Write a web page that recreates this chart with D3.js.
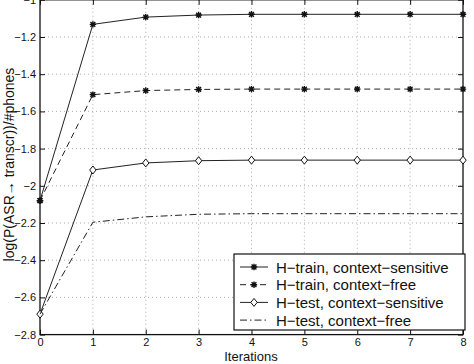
<!DOCTYPE html>
<html>
<head>
<meta charset="utf-8">
<script src="https://cdn.jsdelivr.net/npm/d3@7"></script>
<style>
  body { margin: 0; background: #fff; }
  svg { display: block; font-family: "Liberation Sans", Arial, sans-serif; }
</style>
</head>
<body>
<svg id="chart" width="474" height="364"></svg>
<script>
const iterations = [0, 1, 2, 3, 4, 5, 6, 7, 8];
const trainSensitive = [-2.08, -1.132, -1.093, -1.082, -1.078, -1.078, -1.078, -1.078, -1.078];
const trainFree = [-2.08, -1.51, -1.488, -1.482, -1.48, -1.48, -1.48, -1.48, -1.48];
const testSensitive = [-2.69, -1.915, -1.877, -1.865, -1.862, -1.862, -1.862, -1.862, -1.862];
const testFree = [-2.69, -2.196, -2.167, -2.153, -2.15, -2.15, -2.15, -2.15, -2.15];
const xTicks = [0, 1, 2, 3, 4, 5, 6, 7, 8];
const yTicks = [-1, -1.2, -1.4, -1.6, -1.8, -2, -2.2, -2.4, -2.6, -2.8];

const series = [
  { name: "H\u2212train, context\u2212sensitive", values: trainSensitive, dash: null, marker: "star" },
  { name: "H\u2212train, context\u2212free", values: trainFree, dash: "6,4", marker: "star" },
  { name: "H\u2212test, context\u2212sensitive", values: testSensitive, dash: null, marker: "diamond" },
  { name: "H\u2212test, context\u2212free", values: testFree, dash: "7,3,1.5,3", marker: null }
];

const svg = d3.select("#chart");
const mLeft = 40, mRight = 463, mTop = -0.2, mBottom = 334.6;

const x = d3.scaleLinear().domain([0, 8]).range([mLeft, mRight]);
const y = d3.scaleLinear().domain([-2.8, -1]).range([mBottom, mTop]);
const fmt = d => d3.format("")(d).replace("-", "\u2212");

// grid
const grid = svg.append("g").attr("stroke", "#999").attr("stroke-width", 0.8).attr("stroke-dasharray", "1,3");
grid.selectAll(".gx").data(xTicks.slice(1, -1)).join("line")
  .attr("x1", d => x(d)).attr("x2", d => x(d)).attr("y1", mTop).attr("y2", mBottom);
grid.selectAll(".gy").data(yTicks.slice(1, -1)).join("line")
  .attr("x1", mLeft).attr("x2", mRight).attr("y1", d => y(d)).attr("y2", d => y(d));

// axes (ticks inward, box)
svg.append("g").attr("transform", `translate(0,${mBottom})`)
  .call(d3.axisBottom(x).tickValues(xTicks).tickSizeInner(-5).tickSizeOuter(0).tickPadding(4).tickFormat(fmt))
  .call(g => g.select(".domain").remove());
svg.append("g").attr("transform", `translate(${mLeft},0)`)
  .call(d3.axisLeft(y).tickValues(yTicks).tickSizeInner(-5).tickSizeOuter(0).tickPadding(4).tickFormat(fmt))
  .call(g => g.select(".domain").remove());
svg.append("g").attr("transform", `translate(0,${mTop})`)
  .call(d3.axisTop(x).tickValues(xTicks).tickSizeInner(-5).tickSizeOuter(0).tickFormat(""))
  .call(g => g.select(".domain").remove());
svg.append("g").attr("transform", `translate(${mRight},0)`)
  .call(d3.axisRight(y).tickValues(yTicks).tickSizeInner(-5).tickSizeOuter(0).tickFormat(""))
  .call(g => g.select(".domain").remove());
svg.selectAll(".tick text").attr("font-size", 11).attr("fill", "#111");
svg.selectAll(".tick line").attr("stroke", "#111");

svg.append("rect").attr("x", mLeft).attr("y", mTop).attr("width", mRight - mLeft).attr("height", mBottom - mTop)
  .attr("fill", "none").attr("stroke", "#111").attr("stroke-width", 1.3);

// lines
const line = d3.line().x((d, i) => x(iterations[i])).y(d => y(d));

function drawMarker(g, type, cx, cy) {
  if (type === "star") {
    const s = 3.2;
    g.append("path")
      .attr("d", `M${cx - s},${cy}L${cx + s},${cy}M${cx},${cy - s}L${cx},${cy + s}` +
        `M${cx - s * 0.75},${cy - s * 0.75}L${cx + s * 0.75},${cy + s * 0.75}` +
        `M${cx - s * 0.75},${cy + s * 0.75}L${cx + s * 0.75},${cy - s * 0.75}`)
      .attr("stroke", "#111").attr("stroke-width", 1.4).attr("fill", "none");
  } else if (type === "diamond") {
    const s = 4;
    g.append("path")
      .attr("d", `M${cx},${cy - s}L${cx + s * 0.8},${cy}L${cx},${cy + s}L${cx - s * 0.8},${cy}Z`)
      .attr("stroke", "#111").attr("stroke-width", 1).attr("fill", "#fff");
  }
}

series.forEach(s => {
  svg.append("path").datum(s.values)
    .attr("d", line).attr("fill", "none").attr("stroke", "#222").attr("stroke-width", 1)
    .attr("stroke-dasharray", s.dash);
  const mg = svg.append("g");
  if (s.marker) s.values.forEach((v, i) => drawMarker(mg, s.marker, x(iterations[i]), y(v)));
});

// legend
const lg = svg.append("g");
lg.append("rect").attr("x", 234).attr("y", 254).attr("width", 231).attr("height", 76)
  .attr("fill", "#fff").attr("stroke", "#111").attr("stroke-width", 1.2);
series.forEach((s, i) => {
  const ly = 267 + i * 17.7;
  lg.append("line").attr("x1", 240).attr("x2", 268).attr("y1", ly).attr("y2", ly)
    .attr("stroke", "#222").attr("stroke-width", 1).attr("stroke-dasharray", s.dash);
  if (s.marker) drawMarker(lg, s.marker, 254, ly);
  lg.append("text").attr("x", 276).attr("y", ly + 5.5).attr("font-size", 15).attr("fill", "#111").text(s.name);
});

// axis labels
svg.append("text").attr("x", 251).attr("y", 361).attr("text-anchor", "middle")
  .attr("font-size", 13).attr("fill", "#111").text("Iterations");
svg.append("text").attr("transform", "translate(13.5,164.5) rotate(-90)").attr("text-anchor", "middle")
  .attr("font-size", 14).attr("fill", "#111").text("log(P(ASR\u2192 transcr))/#phones");
</script>
</body>
</html>
